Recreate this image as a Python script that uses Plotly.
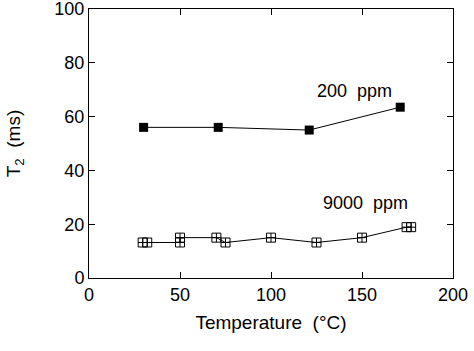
import plotly.graph_objects as go

temp_200 = [30, 71, 121, 171]
t2_200 = [56, 56, 55, 63.5]

temp_9000 = [29.5, 32, 50, 50, 70, 75, 100, 125, 150, 174.5, 177]
t2_9000 = [13.2, 13.2, 13.2, 15, 15, 13.2, 15, 13.2, 15, 18.9, 18.9]

x_ticks = [0, 50, 100, 150, 200]
y_ticks = [0, 20, 40, 60, 80, 100]

font = "Liberation Sans, Arial, sans-serif"

fig = go.Figure()
fig.add_trace(go.Scatter(x=temp_200, y=t2_200, mode="lines+markers",
                         line=dict(color="black", width=1),
                         marker=dict(symbol="square", size=9, color="black")))
fig.add_trace(go.Scatter(x=temp_9000, y=t2_9000, mode="lines+markers",
                         line=dict(color="black", width=1),
                         marker=dict(symbol="square-cross-open", size=9, color="black",
                                     line=dict(width=1))))

fig.add_annotation(x=146, y=69.7, text="200  ppm", showarrow=False,
                   font=dict(size=18, color="black", family=font))
fig.add_annotation(x=152, y=27.7, text="9000  ppm", showarrow=False,
                   font=dict(size=18, color="black", family=font))

axis_common = dict(showgrid=False, zeroline=False, showline=True, linecolor="black",
                   linewidth=1, mirror="ticks", ticks="inside", ticklen=6,
                   tickcolor="black", ticklabeloverflow="allow",
                   tickfont=dict(size=18, color="black", family=font))

fig.update_xaxes(range=[0, 200], tickvals=x_ticks, automargin=False, **axis_common,
                 title=dict(text="Temperature  (°C)", font=dict(size=19, color="black", family=font),
                            standoff=12))
fig.update_yaxes(range=[0, 100], tickvals=y_ticks, automargin=False, **axis_common,
                 title=dict(text="T<sub>2</sub>  (ms)", font=dict(size=19, color="black", family=font),
                            standoff=28))

fig.update_layout(width=474, height=351, margin=dict(l=89, r=21, t=9, b=73),
                  paper_bgcolor="white", plot_bgcolor="white", showlegend=False)

fig.write_html("out.html")
